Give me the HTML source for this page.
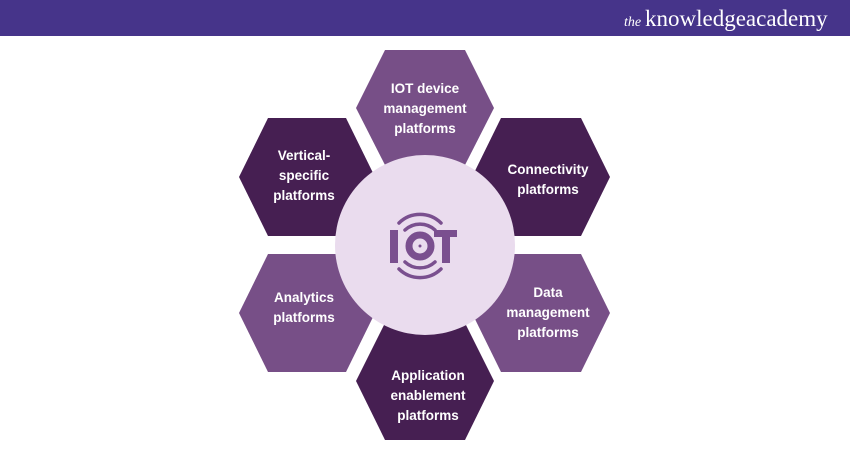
<!DOCTYPE html>
<html><head><style>
body{margin:0;width:850px;height:450px;background:#fff;overflow:hidden;font-family:"Liberation Sans",sans-serif}
</style></head><body>
<svg width="850" height="450" xmlns="http://www.w3.org/2000/svg">
<rect x="0" y="0" width="850" height="36" fill="#46348a"/>
<text x="624" y="26" fill="#fff" font-family="Liberation Serif" font-style="italic" font-size="14">the</text>
<text x="645" y="26" fill="#fff" font-family="Liberation Serif" font-size="23">knowledgeacademy</text>
<g font-family="Liberation Sans" font-weight="bold" font-size="13.5" fill="#fff" text-anchor="middle">
<polygon points="385,50 465,50 494,108 465,165 385,165 356,108" fill="#774f87"/>
<polygon points="268,118 346,118 375,177 346,236 268,236 239,177" fill="#461f52"/>
<polygon points="501,118 581,118 610,177 581,236 501,236 472,177" fill="#461f52"/>
<polygon points="268,254 346,254 375,313 346,372 268,372 239,313" fill="#774f87"/>
<polygon points="501,254 581,254 610,313 581,372 501,372 472,313" fill="#774f87"/>
<polygon points="385,323 465,323 494,381 465,440 385,440 356,381" fill="#461f52"/>
<circle cx="425" cy="245" r="90" fill="#eadcee"/>
<text x="425" y="93">IOT device</text><text x="425" y="113">management</text><text x="425" y="133">platforms</text>
<text x="304" y="160">Vertical-</text><text x="304" y="180">specific</text><text x="304" y="200">platforms</text>
<text x="548" y="174">Connectivity</text><text x="548" y="194">platforms</text>
<text x="304" y="302">Analytics</text><text x="304" y="322">platforms</text>
<text x="548" y="297">Data</text><text x="548" y="317">management</text><text x="548" y="337">platforms</text>
<text x="428" y="380">Application</text><text x="428" y="400">enablement</text><text x="428" y="420">platforms</text>
</g>
<g fill="#7a4f8f" stroke="none">
<rect x="390" y="230" width="8" height="33"/>
<rect x="434" y="230" width="23" height="7"/>
<rect x="442" y="230" width="8" height="33"/>
</g>
<g fill="none" stroke="#7a4f8f" stroke-width="3.5" stroke-linecap="round">
<circle cx="420" cy="246" r="11" stroke-width="7"/>
<path d="M405,230 A22,22 0 0 1 435,230"/>
<path d="M399,223 A30,30 0 0 1 441,223"/>
<path d="M405,262 A22,22 0 0 0 435,262"/>
<path d="M399,269 A30,30 0 0 0 441,269"/>
</g>
<circle cx="420" cy="246" r="1.5" fill="#7a4f8f"/>
</svg>
</body></html>
